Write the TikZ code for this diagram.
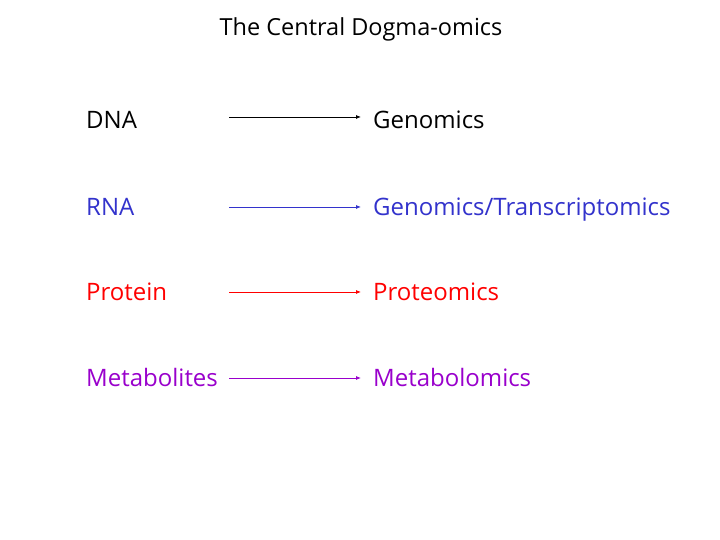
\documentclass[tikz,border=0pt]{standalone}
\usepackage{fontspec}
\setmainfont{Open Sans}
\usetikzlibrary{arrows.meta}
\definecolor{rnablue}{HTML}{3333CC}
\definecolor{protred}{HTML}{FF0000}
\definecolor{metpurple}{HTML}{9900CC}
\begin{document}
\begin{tikzpicture}[x=1pt,y=1pt,
  lbl/.style={anchor=base west,inner sep=0pt,font=\fontsize{24}{28}\selectfont},
  conn/.style={line width=0.8pt,-{Latex[length=5pt,width=4pt]}}]
\useasboundingbox (0,0) rectangle (720,540);
\fill[white] (0,0) rectangle (720,540);
\node[inner sep=0pt,anchor=base,font=\fontsize{23.5}{28}\selectfont] (title) at (361,504) {The Central Dogma-omics};
\node[lbl] (dna) at (86,411) {DNA};
\node[lbl] (gen) at (373,411) {Genomics};
\node[lbl,text=rnablue] (rna) at (86,324) {RNA};
\node[lbl,text=rnablue] (tra) at (373,324) {Genomics/Transcriptomics};
\node[lbl,text=protred] (pro) at (86,239) {Protein};
\node[lbl,text=protred] (prt) at (373,239) {Proteomics};
\node[lbl,text=metpurple] (met) at (86,153) {Metabolites};
\node[lbl,text=metpurple] (mbl) at (373,153) {Metabolomics};
\coordinate (a1) at (229,423); \coordinate (b1) at (361,423);
\coordinate (a2) at (229,333); \coordinate (b2) at (361,333);
\coordinate (a3) at (229,248); \coordinate (b3) at (361,248);
\coordinate (a4) at (229,162); \coordinate (b4) at (361,162);
\draw[conn,black] (a1) -- (b1);
\draw[conn,rnablue] (a2) -- (b2);
\draw[conn,protred] (a3) -- (b3);
\draw[conn,metpurple] (a4) -- (b4);
\end{tikzpicture}
\end{document}
